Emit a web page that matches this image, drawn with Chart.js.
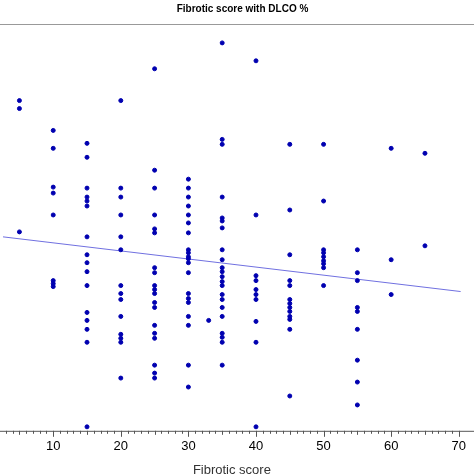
<!DOCTYPE html>
<html><head><meta charset="utf-8">
<script src="https://cdn.jsdelivr.net/npm/chart.js@4"></script>
<style>html,body{margin:0;padding:0;background:#fff;overflow:hidden}#w{width:474px;height:474px}</style>
</head><body><div id="w"><canvas id="c"></canvas></div>
<script>
const chartTitle = "Fibrotic score with DLCO %";
const xTitle = "Fibrotic score";
const xTicks = [10,20,30,40,50,60,70];
const scores = [5,10,15,20,25,30,33,35,40,45,50,55,60,65];
const dlco = [
 [103,101,70],
 [95.5,91,81.25,79.75,74.25,57.75,57,56.25],
 [92.25,88.75,81,78.75,77.75,76.5,68.75,64.25,62.25,60,56.5,49.75,47.75,45.5,42.25,21],
 [103,81,78.75,74.25,68.75,65.5,56.5,54.5,53,48.75,44.25,43.25,42.25,33.25],
 [111,85.5,81,74.25,70.75,69.75,61,59.75,56.5,55.5,54.5,52.25,51,46.5,44.5,43.25,36.5,34.5,33.25],
 [83.25,81,78.75,76.5,74.25,72.25,69.75,65.5,64.75,63.75,63.25,62.25,59.75,54.5,53.25,52.25,48.75,46.5,36.5,31],
 [47.75],
 [117.5,93.25,92,78.75,73.5,72.75,71,65.5,63,61,60,58.75,57.5,56.5,54.25,53,51,48.75,44.5,43.5,42.25,36.5],
 [113,74.25,59,57.75,55.5,54.25,53,47.5,42.25,21],
 [92,75.5,64.25,57.75,56.5,53,52,51,50,48.75,48,45.5,28.75],
 [92,77.75,65.5,64.75,63.75,62.75,62,61,56.5],
 [65.5,59.75,57.75,51,50,45.5,37.75,32.25,26.5],
 [91,63,54.25],
 [89.75,66.5]
];
const fitX = [2.57, 70.3];
const fitY = [68.75, 55];

const pts = [];
scores.forEach((s,i)=>dlco[i].forEach(v=>pts.push({x:s,y:v})));

const minorTicks = {
  id:'minor',
  afterDraw(ch){
    const {ctx, scales:{x}, chartArea:a} = ch;
    ctx.save();
    ctx.strokeStyle='#555'; ctx.lineWidth=1;
    ctx.beginPath(); ctx.moveTo(0,a.bottom+0.5); ctx.lineTo(474,a.bottom+0.5);
    for(let v=Math.ceil(x.min); v<=x.max; v++){
      const px=Math.round(x.getPixelForValue(v))+0.5;
      const len = v%10===0?6:(v%5===0?4:3);
      ctx.moveTo(px,a.bottom); ctx.lineTo(px,a.bottom+len);
    }
    ctx.stroke();
    ctx.strokeStyle='#999';
    ctx.beginPath(); ctx.moveTo(0,a.top-0.5); ctx.lineTo(474,a.top-0.5); ctx.stroke();
    ctx.restore();
  }
};

new Chart(document.getElementById('c'), {
  data:{datasets:[
    {type:'scatter', data:pts, backgroundColor:'#0000b0', borderColor:'#0000b0', pointRadius:2, pointHoverRadius:2},
    {type:'line', data:fitX.map((x,i)=>({x, y:fitY[i]})), borderColor:'#7070e0', borderWidth:1, pointRadius:0}
  ]},
  options:{
    responsive:true, maintainAspectRatio:false, animation:false,
    layout:{padding:{left:-3,right:-14,top:0,bottom:-4}},
    plugins:{legend:{display:false}, tooltip:{enabled:false},
      title:{display:true, text:chartTitle, color:'#000', font:{family:'Liberation Sans', size:10, weight:'bold'}, padding:{top:3,bottom:10}}},
    scales:{
      x:{type:'linear', min:2.57, max:70.3,
        afterBuildTicks(ax){ax.ticks = xTicks.map(v=>({value:v}));},
        grid:{display:false, drawTicks:false}, border:{display:false},
        ticks:{color:'#000', font:{family:'Liberation Sans', size:13}, padding:8, maxRotation:0},
        title:{display:true, text:xTitle, color:'#333', font:{family:'Liberation Sans', size:13}, padding:{top:0,bottom:0}}},
      y:{display:false, min:20, max:122}
    }
  },
  plugins:[minorTicks]
});
</script></body></html>
